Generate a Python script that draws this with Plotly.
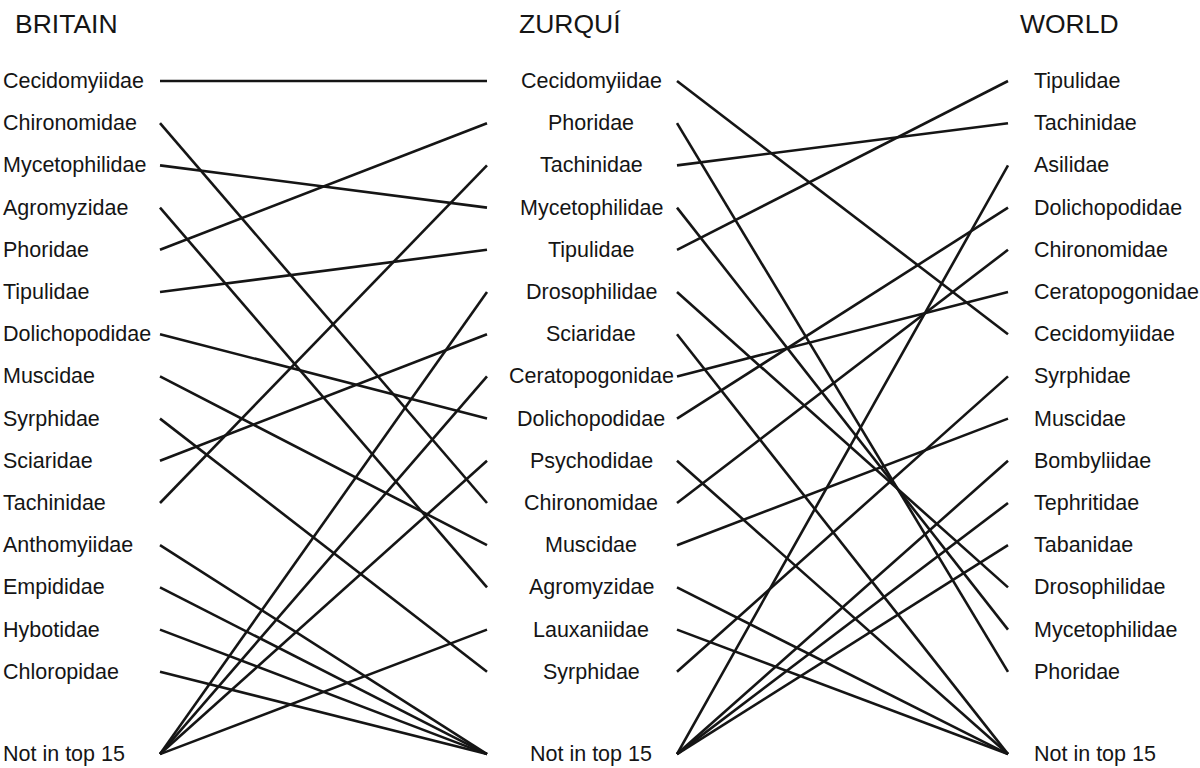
import plotly.graph_objects as go

# ---- data: top-15 ranked families in each region ----
britain = ["Cecidomyiidae", "Chironomidae", "Mycetophilidae", "Agromyzidae", "Phoridae",
           "Tipulidae", "Dolichopodidae", "Muscidae", "Syrphidae", "Sciaridae",
           "Tachinidae", "Anthomyiidae", "Empididae", "Hybotidae", "Chloropidae"]
zurqui = ["Cecidomyiidae", "Phoridae", "Tachinidae", "Mycetophilidae", "Tipulidae",
          "Drosophilidae", "Sciaridae", "Ceratopogonidae", "Dolichopodidae", "Psychodidae",
          "Chironomidae", "Muscidae", "Agromyzidae", "Lauxaniidae", "Syrphidae"]
world = ["Tipulidae", "Tachinidae", "Asilidae", "Dolichopodidae", "Chironomidae",
         "Ceratopogonidae", "Cecidomyiidae", "Syrphidae", "Muscidae", "Bombyliidae",
         "Tephritidae", "Tabanidae", "Drosophilidae", "Mycetophilidae", "Phoridae"]
column_titles = ["BRITAIN", "ZURQUÍ", "WORLD"]
not_label = "Not in top 15"

# ---- layout constants ----
W, H = 1200, 768
NOT_RANK = 16.95
PX0, PXSTEP = 81.0, 42.2           # pixel y of rank 1, pixels per rank
Y_TOP = 1 - PX0 / PXSTEP
Y_BOT = 1 + (H - PX0) / PXSTEP
FONT = "Liberation Sans, Arial, Helvetica, sans-serif"
INK = "#151515"


def rank(lst, name):
    return lst.index(name) + 1 if name in lst else NOT_RANK


def connectors(a, b, xa, xb):
    xs, ys = [], []
    for n in a:
        xs += [xa, xb, None]
        ys += [rank(a, n), rank(b, n), None]
    for n in b:
        if n not in a:
            xs += [xa, xb, None]
            ys += [NOT_RANK, rank(b, n), None]
    return xs, ys


fig = go.Figure()
for (a, b, xa, xb) in [(britain, zurqui, 160, 487), (zurqui, world, 677, 1008)]:
    xs, ys = connectors(a, b, xa, xb)
    fig.add_trace(go.Scatter(x=xs, y=ys, mode="lines",
                             line=dict(color=INK, width=2.6),
                             hoverinfo="skip", showlegend=False))

annotations = []
cols = [(britain, 1, "left"), (zurqui, 591, "center"), (world, 1032, "left")]
for lst, x, anchor in cols:
    for i, name in enumerate(lst + [not_label]):
        annotations.append(dict(x=x, y=(i + 1) if i < len(lst) else NOT_RANK,
                                xref="x", yref="y", text=name, showarrow=False,
                                xanchor=anchor, yanchor="middle",
                                font=dict(family=FONT, size=21.5, color=INK)))

title_x = [13, 517, 1018]
for t, x in zip(column_titles, title_x):
    annotations.append(dict(x=x, y=1 + (24 - PX0) / PXSTEP, xref="x", yref="y",
                            text=t, showarrow=False, xanchor="left", yanchor="middle",
                            font=dict(family=FONT, size=26.5, color=INK)))

fig.update_layout(
    width=W, height=H,
    margin=dict(l=0, r=0, t=0, b=0),
    paper_bgcolor="white", plot_bgcolor="white",
    xaxis=dict(range=[0, W], visible=False, fixedrange=True),
    yaxis=dict(range=[Y_BOT, Y_TOP], visible=False, fixedrange=True),
    annotations=annotations,
)

fig.write_html("out.html",
               config={"displayModeBar": False},
               post_script="document.body.style.margin='0';"
                           "document.body.style.overflow='hidden';")
